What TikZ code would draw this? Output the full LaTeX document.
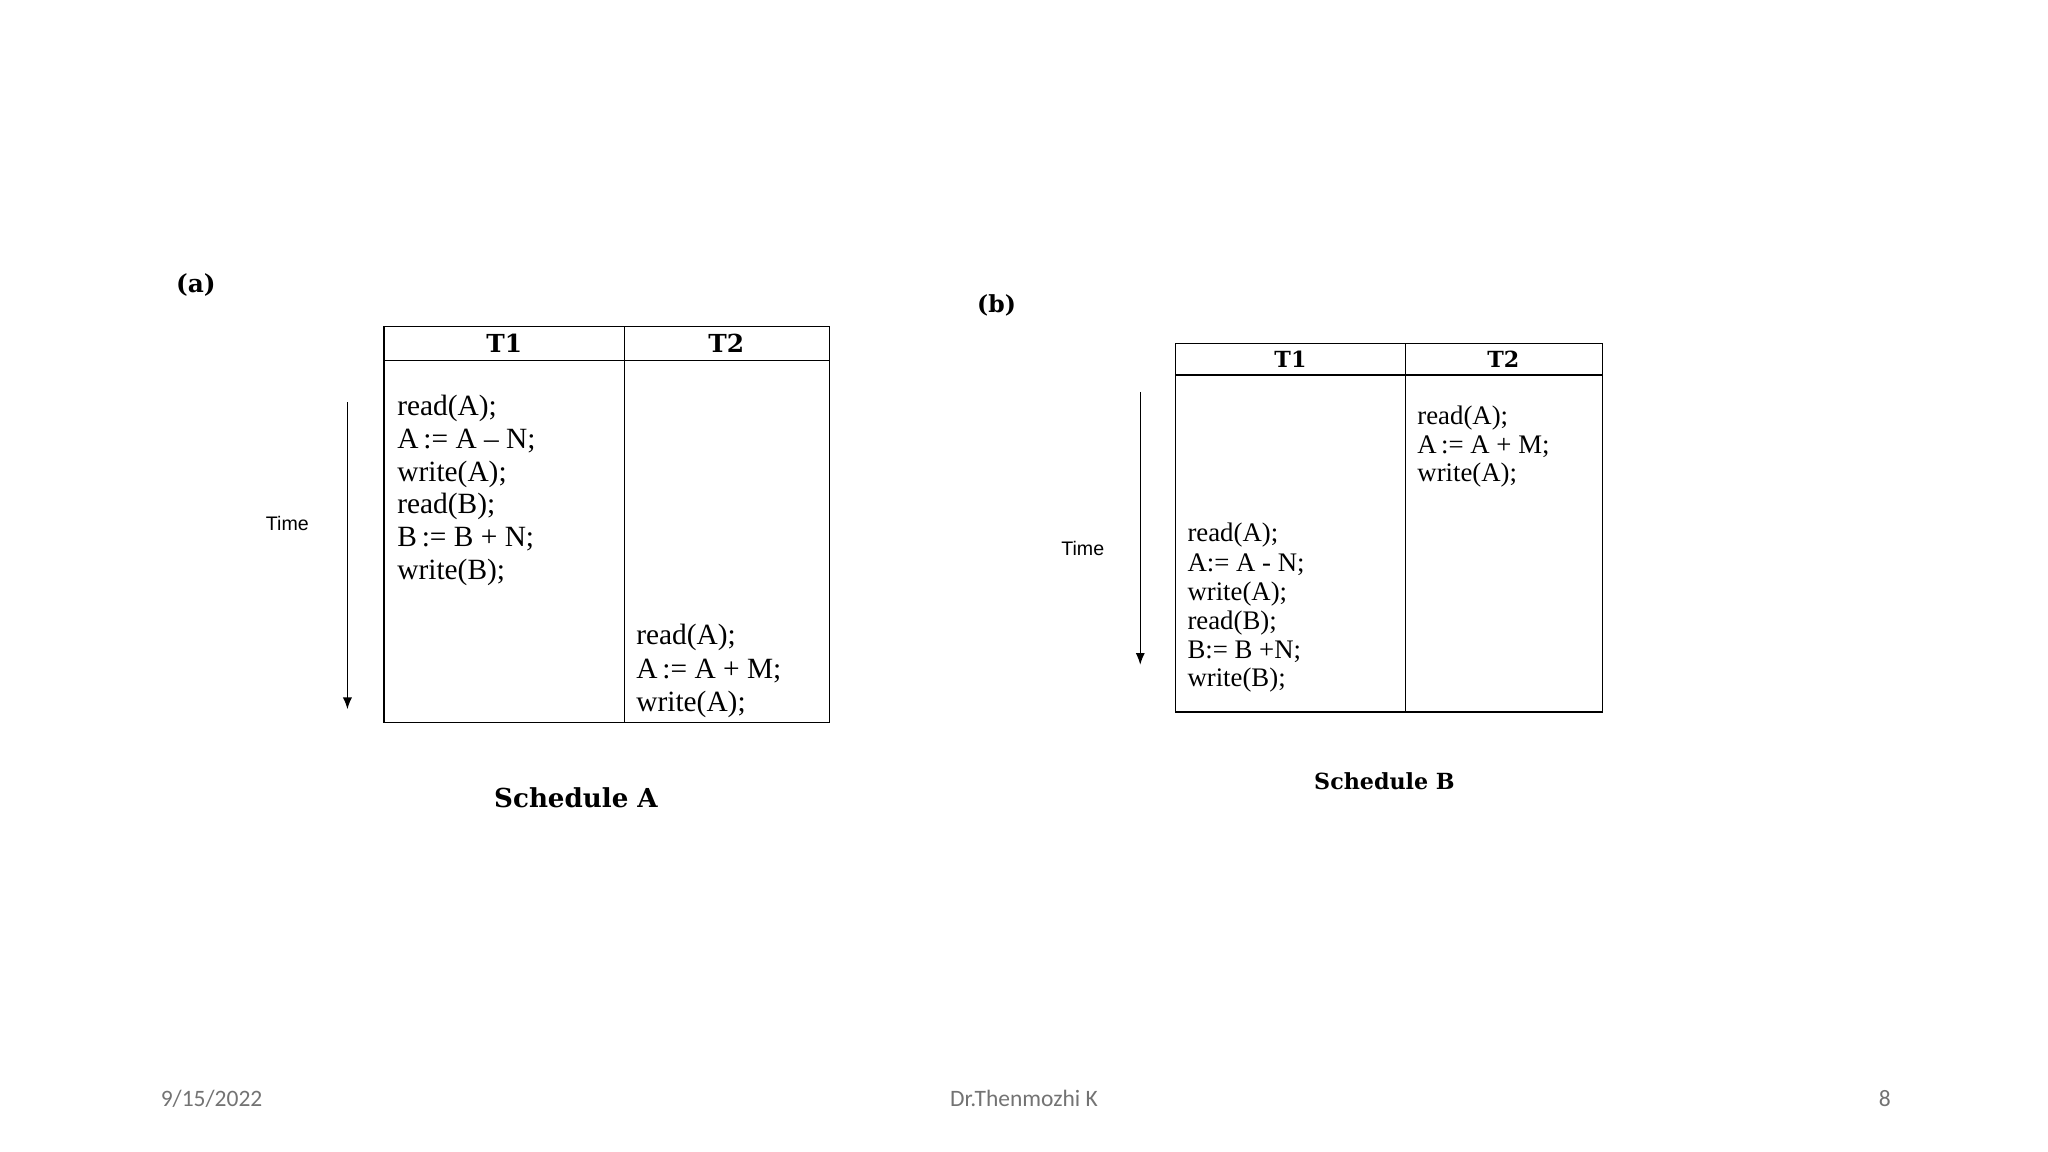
\documentclass[tikz,border=0pt]{standalone}
\usepackage{fontspec}
\usetikzlibrary{arrows.meta}
\setmainfont{Liberation Serif}
\newfontfamily\footfont{Carlito}
\newfontfamily\timefont{Liberation Sans}
\newfontfamily\wideserif{DejaVu Serif}
\begin{document}
\begin{tikzpicture}[x=1pt,y=-1pt,
  tx/.style={anchor=west,inner sep=0pt},
  tbl/.style={draw,line width=1.2pt},
  tarrow/.style={-{Latex[length=9pt,width=7pt]},line width=1pt},
  foot/.style={text=black!55,font=\footfont\fontsize{18}{20}\selectfont}]
\useasboundingbox (0,0) rectangle (1568,882);
% ---- (a)
\node (la) at (150,218) {\wideserif\fontsize{19}{22}\selectfont\bfseries (a)};
\draw[tbl] (294,250) rectangle (635,553);
\draw[tbl] (294,276) -- (635,276);
\draw[tbl] (478,250) -- (478,553);
\node (ha1) at (386,263) {\wideserif\fontsize{19}{22}\selectfont\bfseries T1};
\node (ha2) at (556,263) {\wideserif\fontsize{19}{22}\selectfont\bfseries T2};
\begin{scope}[every node/.style={tx,font=\fontsize{22.5}{24}\selectfont}]
\node (a1) at (304,313) {read(A);};
\node (a2) at (304,338) {A\,:= A -- N;};
\node (a3) at (304,363) {write(A);};
\node (a4) at (304,388) {read(B);};
\node (a5) at (304,413) {B\,:= B + N;};
\node (a6) at (304,438) {write(B);};
\node (a7) at (487,488) {read(A);};
\node (a8) at (487,514) {A\,:= A + M;};
\node (a9) at (487,539) {write(A);};
\end{scope}
\coordinate (ta0) at (266,308);
\coordinate (ta1) at (266,543);
\draw[tarrow] (ta0) -- (ta1);
\node (tma) at (220,401) {\timefont\fontsize{15}{16}\selectfont Time};
\node (sa) at (441,611) {\wideserif\fontsize{20}{24}\selectfont\bfseries Schedule A};
% ---- (b)
\node (lb) at (763,234) {\wideserif\fontsize{18}{22}\selectfont\bfseries (b)};
\draw[tbl] (900,263) rectangle (1227,545);
\draw[tbl] (900,287) -- (1227,287);
\draw[tbl] (1076,263) -- (1076,545);
\node (hb1) at (988,275) {\wideserif\fontsize{17}{20}\selectfont\bfseries T1};
\node (hb2) at (1151,275) {\wideserif\fontsize{17}{20}\selectfont\bfseries T2};
\begin{scope}[every node/.style={tx,font=\fontsize{20.5}{22}\selectfont}]
\node (b1) at (1085,320) {read(A);};
\node (b2) at (1085,342) {A\,:= A + M;};
\node (b3) at (1085,364) {write(A);};
\node (b4) at (909,410) {read(A);};
\node (b5) at (909,432) {A:= A - N;};
\node (b6) at (909,455) {write(A);};
\node (b7) at (909,477) {read(B);};
\node (b8) at (909,499) {B:= B +N;};
\node (b9) at (909,521) {write(B);};
\end{scope}
\coordinate (tb0) at (873,300);
\coordinate (tb1) at (873,509);
\draw[tarrow] (tb0) -- (tb1);
\node (tmb) at (829,420) {\timefont\fontsize{15}{16}\selectfont Time};
\node (sb) at (1060,598) {\wideserif\fontsize{17}{22}\selectfont\bfseries Schedule B};
% ---- footer
\node[foot] (f1) at (162,841) {9/15/2022};
\node[foot] (f2) at (784,841) {Dr.Thenmozhi K};
\node[foot] (f3) at (1443,841) {8};
\end{tikzpicture}
\end{document}
